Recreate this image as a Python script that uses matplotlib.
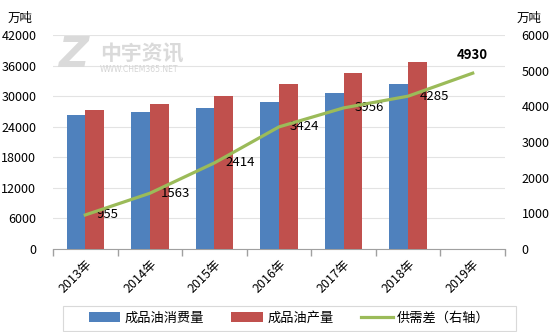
import matplotlib
matplotlib.use("Agg")
import matplotlib.pyplot as plt
from matplotlib.patches import Rectangle
import numpy as np

plt.rcParams['font.family'] = ['Noto Sans CJK SC', 'DejaVu Sans']

# data
years = ["2013年", "2014年", "2015年", "2016年", "2017年", "2018年", "2019年"]
consumption = [26300, 26900, 27600, 28900, 30600, 32400]
production = [27255, 28463, 30014, 32324, 34556, 36685]
gap = [955, 1563, 2414, 3424, 3956, 4285, 4930]

left_ticks = [0, 6000, 12000, 18000, 24000, 30000, 36000, 42000]
right_ticks = [0, 1000, 2000, 3000, 4000, 5000, 6000]

blue = "#4F81BD"
red = "#C0504D"
green = "#9BBB59"

fig = plt.figure(figsize=(5.54, 3.32), dpi=100)
ax = fig.add_axes([53 / 554, 1 - 249 / 332, 452 / 554, 214 / 332])
ax2 = ax.twinx()

x = np.arange(len(years))
w = 0.29
ax.bar(x[:len(consumption)] - w / 2, consumption, w, color=blue, label="成品油消费量", zorder=3)
ax.bar(x[:len(production)] + w / 2, production, w, color=red, label="成品油产量", zorder=3)

ax.set_xlim(-0.5, len(years) - 0.5)
ax.set_ylim(0, 42000)
ax.set_yticks(left_ticks)
ax.set_yticklabels([str(v) for v in left_ticks], fontsize=9)
ax.grid(axis="y", color="#e3e3e3", linewidth=0.8, zorder=0)
ax.set_axisbelow(True)

# tick marks between categories, labels at the centres
ax.set_xticks(np.arange(len(years) + 1) - 0.5)
ax.set_xticklabels([])
ax.tick_params(axis="x", length=5, color="#a0a0a0", width=1)
ax.tick_params(axis="y", length=0, pad=12)
ax.set_xticks(x, minor=True)
ax.set_xticklabels(years, minor=True, rotation=45, ha="right", va="top",
                   rotation_mode="anchor", fontsize=9)
ax.tick_params(axis="x", which="minor", length=0, pad=6)

for s in ["top", "left", "right"]:
    ax.spines[s].set_visible(False)
    ax2.spines[s].set_visible(False)
ax.spines["bottom"].set_color("#a0a0a0")
ax2.spines["bottom"].set_visible(False)

ax2.plot(x, gap, color=green, linewidth=2.3, label="供需差（右轴）", zorder=4)
ax2.set_ylim(0, 6000)
ax2.set_yticks(right_ticks)
ax2.set_yticklabels([str(v) for v in right_ticks], fontsize=9)
ax2.tick_params(axis="y", length=0, pad=12)

for i, v in enumerate(gap):
    if i == len(gap) - 1:
        ax2.annotate(str(v), (x[i], v), xytext=(0, 8), textcoords="offset points",
                     ha="center", va="bottom", fontsize=9.5, fontweight="bold")
    else:
        ax2.annotate(str(v), (x[i], v), xytext=(8, 0), textcoords="offset points",
                     ha="left", va="center", fontsize=9.5)

# unit labels
fig.text(8 / 554, 1 - 18 / 332, "万吨", fontsize=9, va="center", ha="left")
fig.text(517 / 554, 1 - 18 / 332, "万吨", fontsize=9, va="center", ha="left")

# watermark
fig.text(58 / 554, 1 - 55 / 332, "Z", fontsize=30, fontweight="bold", style="italic",
         color="#dadada", va="center", ha="left", family="DejaVu Sans")
fig.text(100 / 554, 1 - 54 / 332, "中宇资讯", fontsize=15, fontweight="bold",
         color="#dadada", va="center", ha="left")
fig.text(100 / 554, 1 - 70 / 332, "WWW.CHEM365.NET", fontsize=5.5,
         color="#d4d4d4", va="center", ha="left", family="DejaVu Sans")

h1, l1 = ax.get_legend_handles_labels()
h2, l2 = ax2.get_legend_handles_labels()
fig.patches.append(Rectangle((63 / 554, 1 - 331 / 332), 453 / 554, 25 / 332,
                             transform=fig.transFigure, fill=False,
                             edgecolor="#d9d9d9", linewidth=0.8))
fig.legend(h1 + h2, l1 + l2, loc="center", bbox_to_anchor=(289 / 554, 1 - 318 / 332),
           ncol=3, fontsize=9.5, frameon=False,
           handlelength=2.4, handleheight=0.8, handletextpad=0.3, columnspacing=2.1)

fig.savefig("out.png", dpi=100)
